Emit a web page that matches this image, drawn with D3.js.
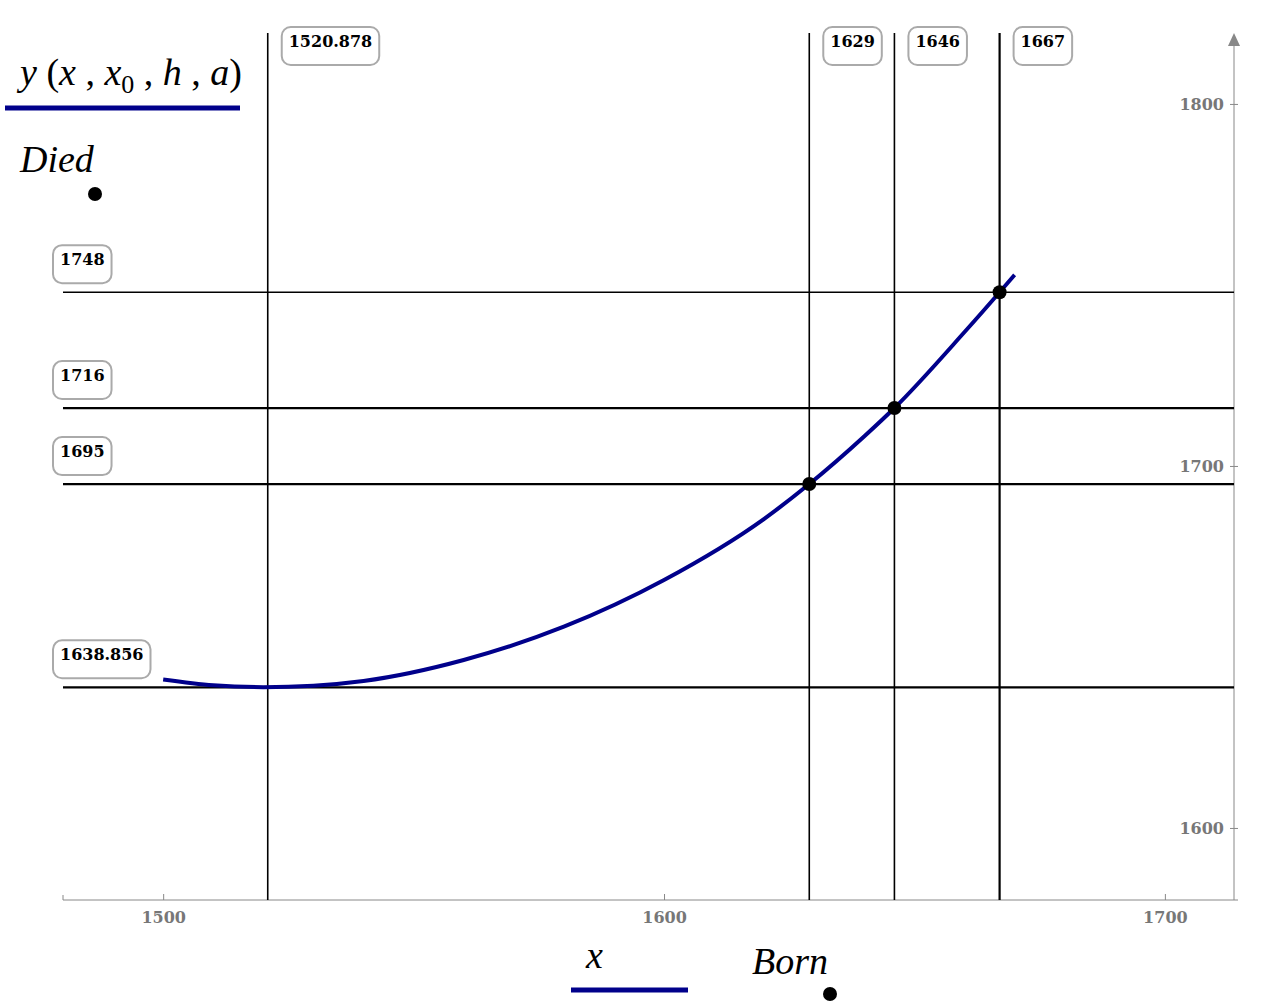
<!DOCTYPE html>
<html><head><meta charset="utf-8">
<script src="https://cdn.jsdelivr.net/npm/d3@7"></script>
<style>body{margin:0;background:#fff}text{font-family:"DejaVu Serif",serif}.m{font-family:"Liberation Serif",serif}</style>
</head><body>
<script>
var xTicks = [1500, 1600, 1700];
var yTicks = [1600, 1700, 1800];
var vLines = [1520.878, 1629, 1646, 1667];
var vLabels = ["1520.878", "1629", "1646", "1667"];
var hLines = [1638.856, 1695, 1716, 1748];
var hLabels = ["1638.856", "1695", "1716", "1748"];
var curveX = [1500, 1510, 1520, 1530, 1540, 1560, 1580, 1600, 1620, 1629, 1640, 1646, 1660, 1667, 1670];
var curveY = [1641.0, 1639.4, 1638.9, 1639.3, 1640.6, 1646.4, 1655.6, 1668.5, 1685.4, 1695, 1708.2, 1716, 1737, 1748, 1752.8];
var bornX = [1629, 1646, 1667];
var diedY = [1695, 1716, 1748];

var svg = d3.select("body").append("svg").attr("width", 1268).attr("height", 1008);
var x = d3.scaleLinear().domain([1480, 1713.8]).range([63, 1234]);
var y = d3.scaleLinear().domain([1580.1, 1819.6]).range([900, 33]);

// axes
svg.append("g").attr("transform", "translate(0,900)")
  .call(d3.axisBottom(x).tickValues(xTicks).tickSize(-6).tickPadding(12).tickFormat(d3.format("d")))
  .call(g => { g.select(".domain").attr("stroke", "#888").attr("d", "M63,-5V0H1238"); g.selectAll("line").attr("stroke", "#888"); g.selectAll("text").attr("fill", "#777").style("font-size", "16px").style("font-weight", "bold"); });
svg.append("g").attr("transform", "translate(1234,0)")
  .call(d3.axisLeft(y).tickValues(yTicks).tickSize(-5).tickPadding(6).tickFormat(d3.format("d")))
  .call(g => { g.select(".domain").attr("stroke", "#888").attr("d", "M0,900V40"); g.selectAll("line").attr("stroke", "#888").attr("x1", -4).attr("x2", 4); g.selectAll("text").attr("fill", "#777").style("font-size", "16px").style("font-weight", "bold").attr("x", -10); });
svg.append("path").attr("d", "M1234,33L1228,46H1240Z").attr("fill", "#888");

// marker lines
svg.selectAll(".vl").data(vLines).enter().append("line")
  .attr("x1", d => x(d)).attr("x2", d => x(d)).attr("y1", 33).attr("y2", 900)
  .attr("stroke", "#000").attr("stroke-width", (d, i) => i == 3 ? 2.2 : 1.6);
svg.selectAll(".hl").data(hLines).enter().append("line")
  .attr("x1", 63).attr("x2", 1234).attr("y1", d => y(d)).attr("y2", d => y(d))
  .attr("stroke", "#000").attr("stroke-width", (d, i) => i == 3 ? 1.6 : 2.2);

function label(tx, ty, t) {
  var g = svg.append("g");
  var txt = g.append("text").attr("x", tx).attr("y", ty).style("font-size", "16px").style("font-weight", "bold").text(t);
  var b = txt.node().getBBox();
  g.insert("rect", "text").attr("x", b.x - 7).attr("y", ty - 20).attr("width", b.width + 14).attr("height", 38)
    .attr("rx", 9).attr("fill", "#fff").attr("stroke", "#aaa").attr("stroke-width", 2);
}
vLines.forEach((d, i) => label(x(d) + 21, 47, vLabels[i]));
hLines.forEach((d, i) => label(60, y(d) - 27, hLabels[i]));

// curve
var pts = curveX.map((d, i) => [d, curveY[i]]);
svg.append("path").datum(pts).attr("fill", "none").attr("stroke", "#00008b").attr("stroke-width", 4)
  .attr("d", d3.line().x(d => x(d[0])).y(d => y(d[1])).curve(d3.curveMonotoneX));
svg.selectAll(".pt").data(bornX).enter().append("circle")
  .attr("cx", d => x(d)).attr("cy", (d, i) => y(diedY[i])).attr("r", 7).attr("fill", "#000");

// legends
svg.append("text").attr("class", "m").attr("x", 20).attr("y", 85).style("font-size", "38px").style("font-style", "italic")
  .html('y <tspan font-style="normal">(</tspan>x<tspan font-style="normal"> , </tspan>x<tspan font-style="normal" font-size="26" dy="8">0</tspan><tspan dy="-8" font-style="normal"> , </tspan>h<tspan font-style="normal"> , </tspan>a<tspan font-style="normal">)</tspan>');
svg.append("line").attr("x1", 5).attr("x2", 240).attr("y1", 108).attr("y2", 108).attr("stroke", "#00008b").attr("stroke-width", 5);
svg.append("text").attr("class", "m").attr("x", 20).attr("y", 172).style("font-size", "38px").style("font-style", "italic").text("Died");
svg.append("circle").attr("cx", 95).attr("cy", 194).attr("r", 7);
svg.append("text").attr("class", "m").attr("x", 586).attr("y", 968).style("font-size", "38px").style("font-style", "italic").text("x");
svg.append("line").attr("x1", 571).attr("x2", 688).attr("y1", 990).attr("y2", 990).attr("stroke", "#00008b").attr("stroke-width", 5);
svg.append("text").attr("class", "m").attr("x", 752).attr("y", 974).style("font-size", "38px").style("font-style", "italic").text("Born");
svg.append("circle").attr("cx", 830).attr("cy", 994).attr("r", 7);
</script>
</body></html>
